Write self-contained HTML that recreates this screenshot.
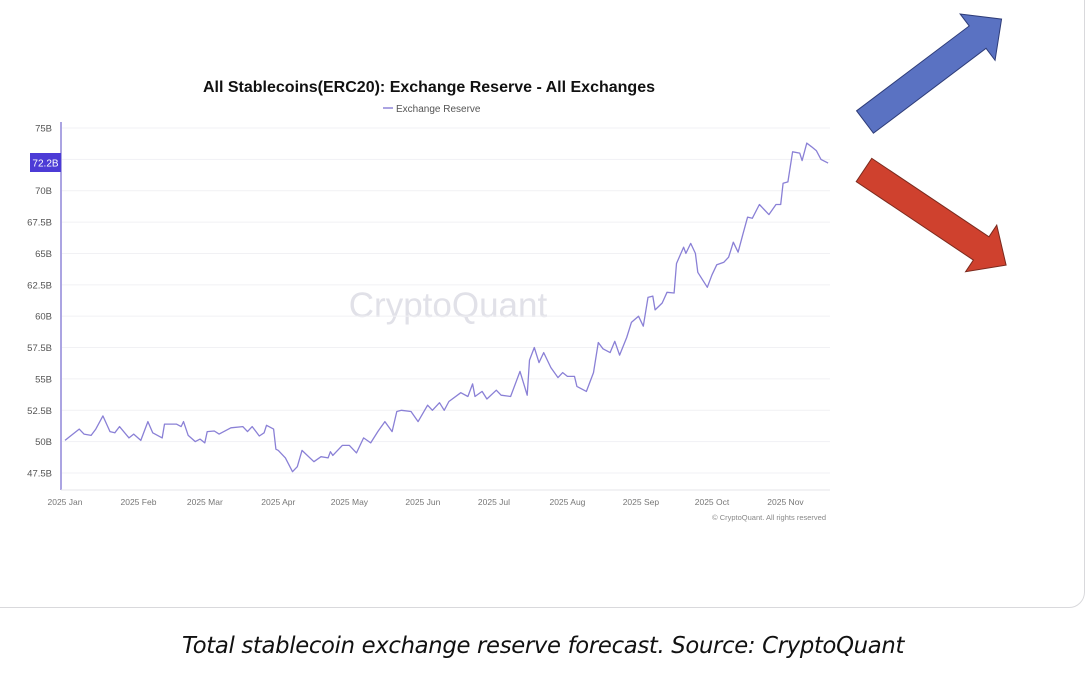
<!DOCTYPE html>
<html><head><meta charset="utf-8">
<style>
html,body{margin:0;padding:0;background:#fff;width:1086px;height:686px;overflow:hidden;font-family:"Liberation Sans",sans-serif;}
.card{position:absolute;left:-20px;top:-20px;width:1103px;height:626px;border:1.5px solid #d9d9dc;border-radius:16px;}
.caption{position:absolute;left:0;width:1086px;top:633px;text-align:center;font-style:italic;font-size:22.7px;color:#111;font-family:"DejaVu Sans","Liberation Sans",sans-serif;letter-spacing:-0.3px;}
svg{position:absolute;left:0;top:0;}
</style></head><body>
<div class="card"></div>
<svg width="1086" height="686">
  <text x="429" y="92" text-anchor="middle" font-size="16" font-weight="bold" fill="#111">All Stablecoins(ERC20): Exchange Reserve - All Exchanges</text>
  <g>
    <line x1="383" y1="108" x2="393" y2="108" stroke="#8f86d8" stroke-width="1.5"/>
    <text x="396" y="112" font-size="10" fill="#555">Exchange Reserve</text>
  </g>
  <text x="448" y="317" text-anchor="middle" font-size="35" fill="#e1e1e8">CryptoQuant</text>
  <g id="grid"></g>
  <g id="yticks"></g>
  <g id="xticks"></g>
  <line x1="61" y1="122" x2="61" y2="490" stroke="#8f86d8" stroke-width="1.5"/>
  <line x1="61" y1="490" x2="830" y2="490" stroke="#e4e4e8" stroke-width="1"/>
  <path id="series" fill="none" stroke="#8a80d6" stroke-width="1.3" stroke-linejoin="round"/>
  <g>
    <rect x="30" y="153" width="31" height="19" fill="#4c3bd6"/>
    <text id="curlbl" x="45.5" y="166.5" text-anchor="middle" font-size="10" fill="#fff">72.2B</text>
  </g>
  <text x="826" y="520" text-anchor="end" font-size="7.5" fill="#888">© CryptoQuant. All rights reserved</text>
  <g transform="translate(865,122) rotate(-37)">
    <polygon points="0,-14 141,-14 141,-29 171,0 141,29 141,14 0,14" fill="#5a72c2" stroke="#2e3c78" stroke-width="1"/>
  </g>
  <g transform="translate(864,170) rotate(33.8)">
    <polygon points="0,-14 141,-14 141,-28 171,0 141,28 141,14 0,14" fill="#cf412e" stroke="#7a2a1e" stroke-width="1"/>
  </g>
</svg>
<div class="caption">Total stablecoin exchange reserve forecast. Source: CryptoQuant</div>
<script>
const yTicks=[47.5,50,52.5,55,57.5,60,62.5,65,67.5,70,75];
const yTickLabels=["47.5B","50B","52.5B","55B","57.5B","60B","62.5B","65B","67.5B","70B","75B"];
const xTickDays=[0,31,59,90,120,151,181,212,243,273,304];
const xTickLabels=["2025 Jan","2025 Feb","2025 Mar","2025 Apr","2025 May","2025 Jun","2025 Jul","2025 Aug","2025 Sep","2025 Oct","2025 Nov"];
const days=[0,2,6,8,11,13,16,19,21,23,27,29,32,35,37,41,42,47,49,50,52,55,57,59,60,63,65,70,75,77,79,82,84,85,88,89,90,93,96,98,100,105,108,111,112,113,117,120,123,126,129,132,135,138,140,142,146,149,153,155,158,160,162,167,170,172,173,176,178,182,184,188,192,195,196,198,200,202,205,208,210,212,215,216,220,223,225,227,230,232,234,237,239,242,244,246,248,249,252,254,257,258,261,262,264,266,267,271,273,275,278,280,281,282,284,286,288,290,293,295,297,300,302,303,305,307,310,311,313,315,317,319,322];
const values=[50.1,50.4,51.0,50.6,50.5,51.0,52.05,50.8,50.7,51.2,50.3,50.6,50.1,51.6,50.7,50.3,51.4,51.4,51.2,51.6,50.5,50.0,50.2,49.9,50.8,50.85,50.6,51.1,51.2,50.8,51.2,50.45,50.7,51.3,51.0,49.4,49.3,48.7,47.6,48.0,49.3,48.4,48.8,48.7,49.2,48.9,49.7,49.7,49.1,50.3,49.9,50.8,51.6,50.8,52.4,52.5,52.4,51.6,52.9,52.5,53.1,52.5,53.2,53.9,53.6,54.6,53.6,54.0,53.4,54.1,53.7,53.6,55.6,53.7,56.5,57.5,56.3,57.1,55.9,55.1,55.5,55.2,55.2,54.4,54.0,55.5,57.9,57.4,57.1,58.0,56.9,58.3,59.5,60.0,59.2,61.5,61.6,60.5,61.05,61.9,61.85,64.2,65.5,65.0,65.8,65.0,63.5,62.3,63.3,64.1,64.3,64.7,65.3,65.9,65.1,66.5,67.9,67.8,68.9,68.5,68.1,68.9,68.9,70.6,70.7,73.1,73.0,72.4,73.8,73.5,73.2,72.5,72.2];
const NS="http://www.w3.org/2000/svg";
function xS(d){return 65+d*2.37;}
function yS(v){return 128+(75-v)*12.545;}
const grid=document.getElementById('grid'),yt=document.getElementById('yticks'),xt=document.getElementById('xticks');
const gridVals=yTicks.concat([72.5]);
gridVals.forEach(v=>{
  const l=document.createElementNS(NS,'line');
  
  
  l.setAttribute('x1',62);l.setAttribute('x2',830);l.setAttribute('y1',yS(v));l.setAttribute('y2',yS(v));
  l.setAttribute('stroke','#f1f1f4');l.setAttribute('stroke-width','1');grid.appendChild(l);
});
yTicks.forEach((v,i)=>{
  const t=document.createElementNS(NS,'text');
  
  
  t.setAttribute('x',52);t.setAttribute('y',yS(v)+3.5);t.setAttribute('text-anchor','end');
  t.setAttribute('font-size','9.5');t.setAttribute('fill','#555');t.textContent=yTickLabels[i];yt.appendChild(t);
});
xTickDays.forEach((d,i)=>{
  const t=document.createElementNS(NS,'text');
  
  
  t.setAttribute('x',xS(d));t.setAttribute('y',505);t.setAttribute('text-anchor','middle');
  t.setAttribute('font-size','8.5');t.setAttribute('fill','#777');t.textContent=xTickLabels[i];xt.appendChild(t);
});
let p='';
days.forEach((d,i)=>{p+=(i?'L':'M')+xS(d).toFixed(1)+','+yS(values[i]).toFixed(1);});
document.getElementById('series').setAttribute('d',p);
</script>
</body></html>
